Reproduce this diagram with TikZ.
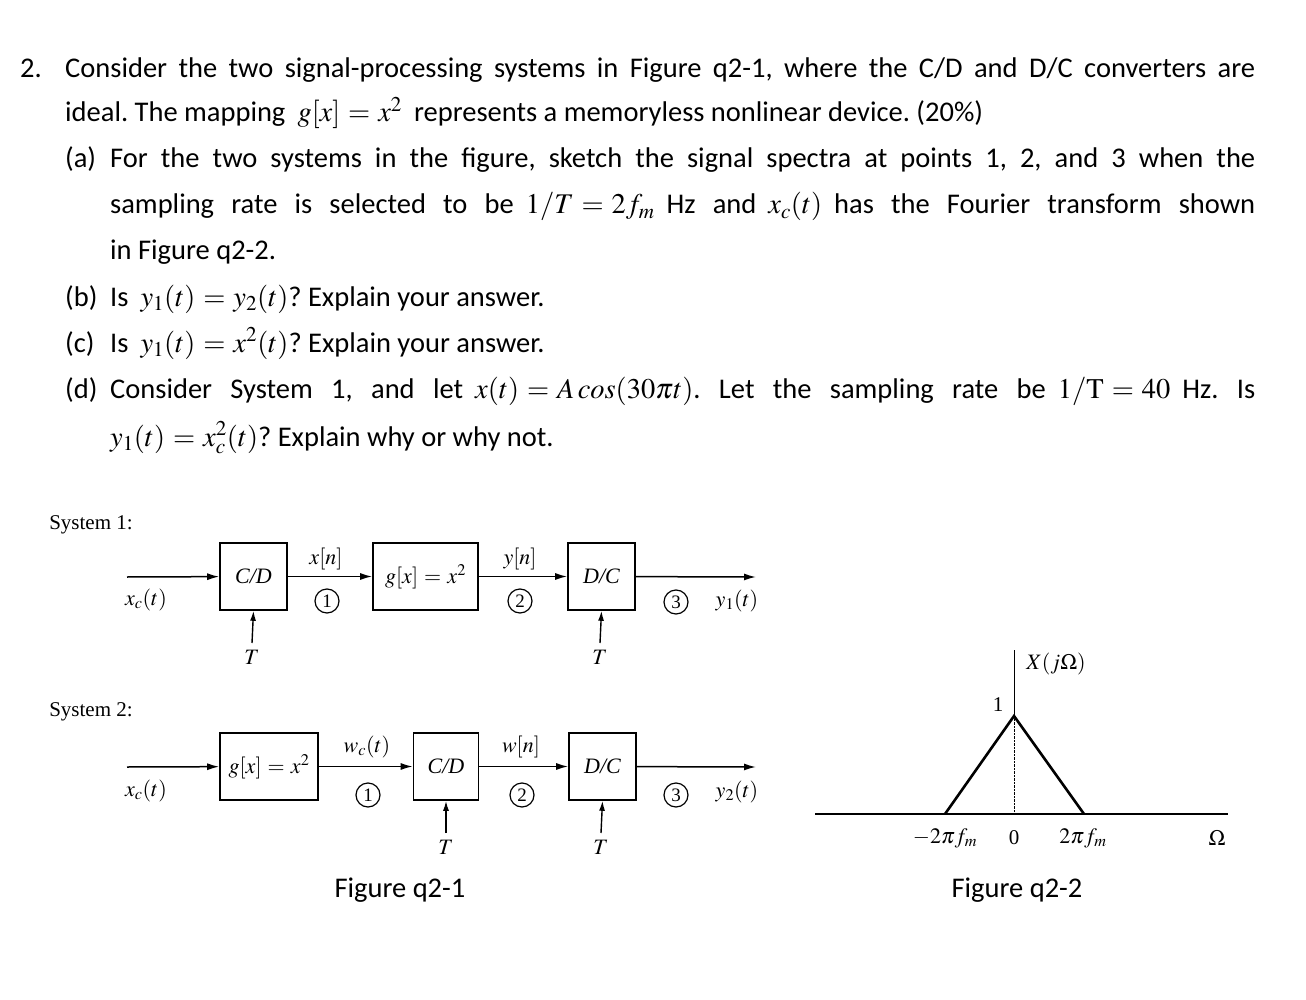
\RequirePackage{fix-cm}
\documentclass[tikz,border=0pt]{standalone}
\usepackage{mathptmx}
\usepackage{fontspec}
\setmainfont{Carlito}
\newfontfamily\tms{Liberation Serif}
\usetikzlibrary{arrows.meta}
\newcommand{\gp}{\hspace*{12pt}}
\thickmuskip=5mu
\medmuskip=4mu
\frenchspacing
\begin{document}
\begin{tikzpicture}[x=1pt,y=-1pt,
  body/.style={anchor=base west,inner sep=0,font=\fontsize{28.5}{30}\selectfont},
  blk/.style={draw,line width=1.6pt,inner sep=0},
  lab/.style={inner sep=0,font=\tms\fontsize{22}{24}\selectfont\itshape},
  num/.style={draw,circle,line width=1.2pt,minimum size=24pt,inner sep=0,font=\tms\fontsize{19}{18}\selectfont},
  sig/.style={line width=1.5pt,-{Latex[length=12pt,width=7pt]}},
  tarr/.style={line width=1.4pt,-{Latex[length=10pt,width=6pt]}}]
\useasboundingbox (0,0) rectangle (1306,1000);
\fill[white] (0,0) rectangle (1306,1000);
% text
\node[body] (l0) at (20,78) {2.};
\node[body] (l1) at (65,78) {\makebox[1190pt][s]{Consider the two signal-processing systems in Figure q2-1, where the C/D and D/C converters are}};
\node[body] (l2) at (65,122) {ideal. The mapping\gp$g[x]=x^2$\gp represents a memoryless nonlinear device. (20\%)};
\node[body] (la) at (65,168) {(a)};
\node[body] (l3) at (110,168) {\makebox[1145pt][s]{For the two systems in the figure, sketch the signal spectra at points 1, 2, and 3 when the}};
\node[body] (l4) at (110,214) {\makebox[1145pt][s]{sampling rate is selected to be\gp$1/T=2f_m$\gp Hz and\gp$x_c(t)$\gp has the Fourier transform shown}};
\node[body] (l5) at (110,260) {in Figure q2-2.};
\node[body] (lb) at (65,306) {(b)};
\node[body] (l6) at (110,306) {Is\gp$y_1(t)=y_2(t)$? Explain your answer.};
\node[body] (lc) at (65,352) {(c)};
\node[body] (l7) at (110,352) {Is\gp$y_1(t)=x^2(t)$? Explain your answer.};
\node[body] (ld) at (65,398) {(d)};
\node[body] (l8) at (110,398) {\makebox[1145pt][s]{Consider System 1, and let\gp$x(t)=A\,cos(30\pi t)$. Let the sampling rate be\gp$1/\mathrm{T}=40$\gp Hz. Is}};
\node[body] (l9) at (110,446) {$y_1(t)=x_c^2(t)$? Explain why or why not.};
% System 1
\node[lab,font=\tms\fontsize{21}{22}\selectfont] (s1) at (91,525) {System 1:};
\node[blk,minimum width=67pt,minimum height=67pt] (cd1) at (253.5,576.5) {};
\node[lab] at (cd1) {C/D};
\node[blk,minimum width=105pt,minimum height=67pt] (g1) at (425.5,576.5) {};
\node[lab] at (g1) {$g[x]=x^2$};
\node[blk,minimum width=67pt,minimum height=67pt] (dc1) at (601.5,576.5) {};
\node[lab] at (dc1) {D/C};
\coordinate (in1) at (127,577);
\coordinate (out1) at (756,577);
\draw[sig] (in1) -- (cd1);
\draw[sig] (cd1) -- (g1);
\draw[sig] (g1) -- (dc1);
\draw[sig] (dc1) -- (out1);
\node[lab] (xc1) at (146,600) {$x_c(t)$};
\node[lab] (xn) at (326,559) {$x[n]$};
\node[lab] (yn) at (520,559) {$y[n]$};
\node[num] (n11) at (327,601) {1};
\node[num] (n12) at (520,601) {2};
\node[num] (n13) at (676,602) {3};
\node[lab] (y1) at (737,601) {$y_1(t)$};
\node[lab] (t11) at (252,657) {$T$};
\node[lab] (t12) at (600,657) {$T$};
\coordinate (a1) at (252,643);
\coordinate (a2) at (600,643);
\draw[tarr] (a1) -- (cd1.south);
\draw[tarr] (a2) -- (dc1.south);
% System 2
\node[lab,font=\tms\fontsize{21}{22}\selectfont] (s2) at (91,712) {System 2:};
\node[blk,minimum width=98pt,minimum height=67pt] (g2) at (269,766.5) {};
\node[lab] at (g2) {$g[x]=x^2$};
\node[blk,minimum width=65pt,minimum height=67pt] (cd2) at (446,766.5) {};
\node[lab] at (cd2) {C/D};
\node[blk,minimum width=67pt,minimum height=67pt] (dc2) at (602.5,766.5) {};
\node[lab] at (dc2) {D/C};
\coordinate (in2) at (127,767);
\coordinate (out2) at (756,767);
\draw[sig] (in2) -- (g2);
\draw[sig] (g2) -- (cd2);
\draw[sig] (cd2) -- (dc2);
\draw[sig] (dc2) -- (out2);
\node[lab] (xc2) at (146,791) {$x_c(t)$};
\node[lab] (wc) at (367,747) {$w_c(t)$};
\node[lab] (wn) at (521,747) {$w[n]$};
\node[num] (n21) at (368,795) {1};
\node[num] (n22) at (522,795) {2};
\node[num] (n23) at (676,795) {3};
\node[lab] (y2) at (737,792) {$y_2(t)$};
\node[lab] (t21) at (446,847) {$T$};
\node[lab] (t22) at (601,847) {$T$};
\coordinate (b1) at (446,833);
\coordinate (b2) at (601,833);
\draw[tarr] (b1) -- (cd2.south);
\draw[tarr] (b2) -- (dc2.south);
\node[body,anchor=center] (f1) at (400,890) {Figure q2-1};
\node[body,anchor=center] (f2) at (1017,890) {Figure q2-2};
% spectrum
\coordinate (axl) at (815,814);
\coordinate (axr) at (1228,814);
\coordinate (top) at (1014,650);
\coordinate (pk) at (1014,716);
\coordinate (o) at (1014,814);
\coordinate (lf) at (945,814);
\coordinate (rt) at (1084,814);
\draw[line width=1.2pt] (axl) -- (axr);
\draw[line width=0.8pt] (top) -- (pk);
\draw[line width=0.4pt,densely dotted] (pk) -- (o);
\draw[line width=2.6pt,line join=miter] (lf) -- (pk) -- (rt);
\node[lab] (X) at (1056,664) {$X(j\Omega)$};
\node[lab,font=\tms\fontsize{21}{22}\selectfont] (one) at (998,705) {1};
\node[lab] (m2) at (945,838) {$-2\pi f_m$};
\node[lab,font=\tms\fontsize{21}{22}\selectfont] (z) at (1014,838) {0};
\node[lab] (p2) at (1083,838) {$2\pi f_m$};
\node[lab] (om) at (1217,838) {$\Omega$};
\end{tikzpicture}
\end{document}
